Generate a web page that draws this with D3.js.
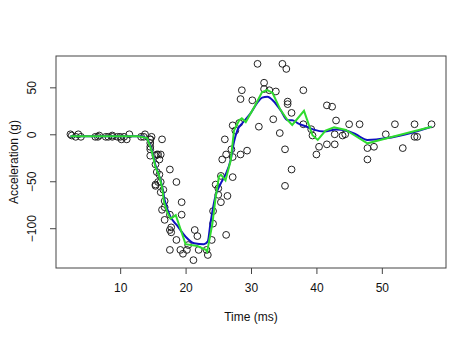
<!DOCTYPE html>
<html>
<head>
<meta charset="utf-8">
<script src="https://cdn.jsdelivr.net/npm/d3@7"></script>
<style>
  body { margin: 0; background: #fff; }
  text { font-family: "Liberation Sans", Arial, sans-serif; fill: #111; }
</style>
</head>
<body>
<svg id="mcycle-plot" width="474" height="338"></svg>
<script>
// motorcycle crash data: time after impact (ms) and head acceleration (g)
const times = [2.4, 2.6, 3.2, 3.6, 4.0, 6.2, 6.6, 6.8, 7.8, 8.2, 8.8, 8.8, 9.6, 10.0, 10.2, 10.6, 11.0, 11.4, 13.2, 13.6, 13.8,
  14.6, 14.6, 14.6, 14.6, 14.6, 14.6, 14.8, 15.4, 15.4, 15.4, 15.4, 15.6, 15.6, 15.8, 15.8, 16.0, 16.0, 16.2, 16.2, 16.2,
  16.4, 16.4, 16.6, 16.8, 16.8, 16.8, 17.6, 17.6, 17.6, 17.6, 17.8, 17.8, 18.6, 18.6, 19.2, 19.4, 19.4, 19.6, 20.2, 20.4,
  21.2, 21.4, 21.8, 22.0, 23.2, 23.4, 24.0, 24.2, 24.2, 24.6, 25.0, 25.0, 25.4, 25.4, 25.6, 26.0, 26.2, 26.2, 26.4, 27.0,
  27.2, 27.2, 27.2, 27.6, 28.2, 28.4, 28.4, 28.6, 29.4, 30.2, 31.0, 31.2, 32.0, 32.0, 32.8, 33.4, 33.8, 34.4, 34.8, 35.2,
  35.2, 35.4, 35.6, 35.6, 36.2, 36.2, 38.0, 38.0, 39.2, 39.4, 40.0, 40.4, 41.6, 41.6, 42.4, 42.8, 42.8, 43.0, 44.0, 44.4,
  45.0, 46.6, 47.8, 47.8, 48.8, 50.6, 52.0, 53.2, 55.0, 55.0, 55.4, 57.6];
const accel = [0.0, -1.3, -2.7, 0.0, -2.7, -2.7, -2.7, -1.3, -2.7, -2.7, -1.3, -2.7, -2.7, -2.7, -5.4, -2.7, -5.4, 0.0, -2.7,
  -2.7, 0.0, -13.3, -5.4, -5.4, -9.3, -16.0, -22.8, -2.7, -22.8, -32.1, -53.5, -54.9, -40.2, -21.5, -21.5, -50.8, -42.9,
  -26.8, -21.5, -50.8, -61.7, -5.4, -80.4, -59.0, -71.0, -91.1, -77.7, -37.5, -85.6, -123.1, -101.9, -99.1, -104.4, -112.5,
  -50.8, -123.1, -85.6, -72.3, -127.2, -123.1, -117.9, -134.0, -101.9, -108.4, -123.1, -123.1, -128.5, -112.5, -95.1, -81.8,
  -53.5, -64.4, -57.6, -72.3, -44.3, -26.8, -5.4, -107.1, -21.5, -65.6, -16.0, -45.6, -24.2, 9.5, 4.0, 12.0, -21.5, 37.5,
  46.9, -17.4, 36.2, 75.0, 8.1, 54.9, 48.2, 46.9, 16.0, 45.6, 1.3, 75.0, -16.0, -54.9, 69.6, 34.8, 32.1, -37.5, 22.8, 46.9,
  10.7, 5.4, -1.3, -21.5, -13.3, 30.8, -10.7, 29.4, 0.0, -10.7, 14.7, -1.3, 0.0, 10.7, 10.7, -26.8, -14.7, -13.3, 0.0, 10.7,
  -14.7, -2.7, 10.7, -2.7, 10.7];

// smooth fit (blue)
const smoothTime = [2.4, 13, 14, 14.6, 15.4, 16.4, 16.8, 17.7, 18.7, 20, 21.3, 22.8, 23.4, 23.8, 24.6, 25.4, 26.1, 26.9,
  27.4, 27.9, 28.7, 29.9, 31, 31.7, 32.5, 33.5, 34.5, 35.6, 36.3, 37.1, 38.5, 39.6, 41.2, 43, 44.5, 46, 47.8, 50.9, 57.6];
const smoothAccel = [-2, -2, -4, -12, -33, -55, -70, -88, -97, -109, -116, -117, -114, -95, -65, -52, -43, -27,
  -8, 4, 12, 22, 34, 39, 40, 35, 26, 15, 15, 12, 8, 5, 3, 5, 4, 0, -6, -4, 8];

// rougher fit (green)
const roughTime = [2.4, 12.8, 14.1, 14.6, 14.9, 15.4, 15.9, 16.4, 16.7, 17.2, 17.7, 18.5, 20, 21.8, 23.1, 23.3, 24.1, 24.6,
  25.1, 25.4, 26.1, 26.9, 27.4, 28.2, 28.6, 29.2, 30.5, 31.7, 32.5, 33.3, 34.5, 35.6, 36.3, 38.1, 39.4, 40.2, 41.4, 42.7,
  44.5, 45.8, 47.8, 50.9, 57.6];
const roughAccel = [-2, -2, -4, -13, -20, -35, -43, -56, -72, -83, -90, -86, -117, -119, -123, -125, -95, -67,
  -45, -43, -49, -28, 4, 15, 17, 13, 29, 45, 47, 44, 26, 15, 10, 25, -1, -6, 4, 7.5,
  4.6, -1, -9.6, -4, 8];

const xTicks = [10, 20, 30, 40, 50];
const yTicks = [-100, -50, 0, 50];

const svg = d3.select('#mcycle-plot');
const plotLeft = 56, plotRight = 446, plotTop = 56, plotBottom = 268;

// R-style 4% padding around the data range
const xr = d3.extent(times), yr = d3.extent(accel);
const xPad = (xr[1] - xr[0]) * 0.04, yPad = (yr[1] - yr[0]) * 0.04;
const x = d3.scaleLinear().domain([xr[0] - xPad, xr[1] + xPad]).range([plotLeft, plotRight]);
const y = d3.scaleLinear().domain([yr[0] - yPad, yr[1] + yPad]).range([plotBottom, plotTop]);

// axes
const xAxis = svg.append('g')
  .attr('transform', 'translate(0,' + plotBottom + ')')
  .call(d3.axisBottom(x).tickValues(xTicks).tickSize(6).tickPadding(9).tickFormat(d3.format('d')));
const yAxis = svg.append('g')
  .attr('transform', 'translate(' + plotLeft + ',0)')
  .call(d3.axisLeft(y).tickValues(yTicks).tickSize(6).tickFormat(d3.format('d')));
[xAxis, yAxis].forEach(function(g) {
  g.select('.domain').remove();
  g.selectAll('line').attr('stroke', '#444');
  g.selectAll('text').style('font-size', '12px').attr('fill', '#111');
});
// R draws y labels parallel to the axis
yAxis.selectAll('text')
  .attr('transform', 'rotate(-90)')
  .attr('x', 0)
  .attr('y', -20)
  .attr('dy', null)
  .style('text-anchor', 'middle');

// frame
svg.append('rect')
  .attr('x', plotLeft).attr('y', plotTop)
  .attr('width', plotRight - plotLeft).attr('height', plotBottom - plotTop)
  .attr('fill', 'none').attr('stroke', '#444').attr('stroke-width', 1);

// axis titles
svg.append('text')
  .attr('x', (plotLeft + plotRight) / 2).attr('y', 321)
  .attr('text-anchor', 'middle').style('font-size', '12px')
  .text('Time (ms)');
svg.append('text')
  .attr('transform', 'translate(14,' + (plotTop + plotBottom) / 2 + ') rotate(-90)')
  .attr('text-anchor', 'middle').attr('dy', '0.35em').style('font-size', '12px')
  .text('Acceleration (g)');

// observations
svg.append('g').selectAll('circle')
  .data(times)
  .enter().append('circle')
  .attr('cx', function(d) { return x(d); })
  .attr('cy', function(d, i) { return y(accel[i]); })
  .attr('r', 3.4)
  .attr('fill', 'none')
  .attr('stroke', '#222')
  .attr('stroke-width', 1);

// fitted curves
const smoothLine = d3.line()
  .x(function(d, i) { return x(smoothTime[i]); })
  .y(function(d) { return y(d); })
  .curve(d3.curveMonotoneX);
const roughLine = d3.line()
  .x(function(d, i) { return x(roughTime[i]); })
  .y(function(d) { return y(d); });

svg.append('path')
  .attr('d', smoothLine(smoothAccel))
  .attr('fill', 'none').attr('stroke', '#1010c0').attr('stroke-width', 2);
svg.append('path')
  .attr('d', roughLine(roughAccel))
  .attr('fill', 'none').attr('stroke', '#2fdc2f').attr('stroke-width', 2);
</script>
</body>
</html>
